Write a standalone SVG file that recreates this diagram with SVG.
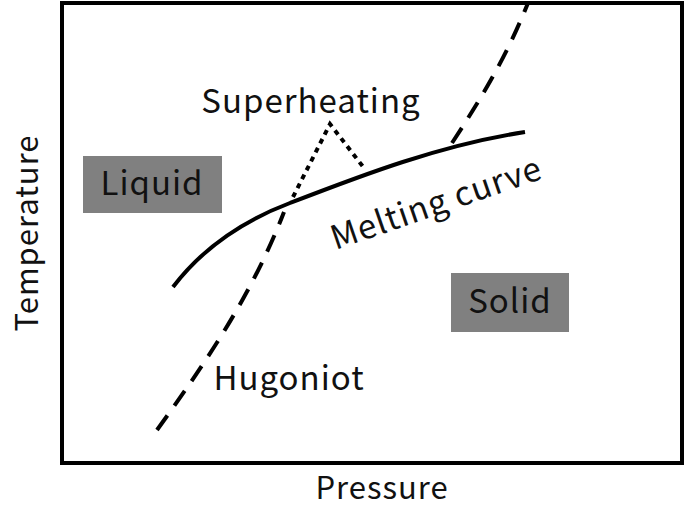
<svg xmlns="http://www.w3.org/2000/svg" width="685" height="511" viewBox="0 0 685 511">
<style>
text{font-family:"Noto Sans CJK JP","Noto Sans",sans-serif;fill:#111;font-size:33px;letter-spacing:1px}
.ax{font-size:31px}
.box{fill:#808080}
.c{fill:none;stroke:#000;stroke-width:4}
</style>
<rect width="685" height="511" fill="#fff"/>
<rect x="62" y="3" width="620" height="460" fill="none" stroke="#000" stroke-width="4"/>
<text class="ax" x="38" y="233" text-anchor="middle" transform="rotate(-90 38 233)">Temperature</text>
<text class="ax" x="382" y="499" text-anchor="middle">Pressure</text>
<g id="liquid"><rect class="box" x="83" y="156" width="139" height="57"/><text x="152" y="195" text-anchor="middle">Liquid</text></g>
<g id="solid"><rect class="box" x="451" y="273" width="118" height="59"/><text x="510" y="313" text-anchor="middle">Solid</text></g>
<g id="connectors">
<path class="c" d="M173,287 C205,245 245,220 290,203 C360,176 440,145 525,132"/>
<path class="c" stroke-dasharray="18,12" d="M157,430 C200,370 250,300 284,212"/>
<path class="c" stroke-dasharray="18,12" d="M452,143 C480,100 505,60 528,3"/>
<path class="c" stroke-width="5" stroke-dasharray="5,5" d="M293,197 L330,124 L364,168"/>
</g>
<text x="311" y="113" text-anchor="middle">Superheating</text>
<text x="440" y="214" text-anchor="middle" transform="rotate(-19 440 214)">Melting curve</text>
<text x="289" y="390" text-anchor="middle">Hugoniot</text>
</svg>
